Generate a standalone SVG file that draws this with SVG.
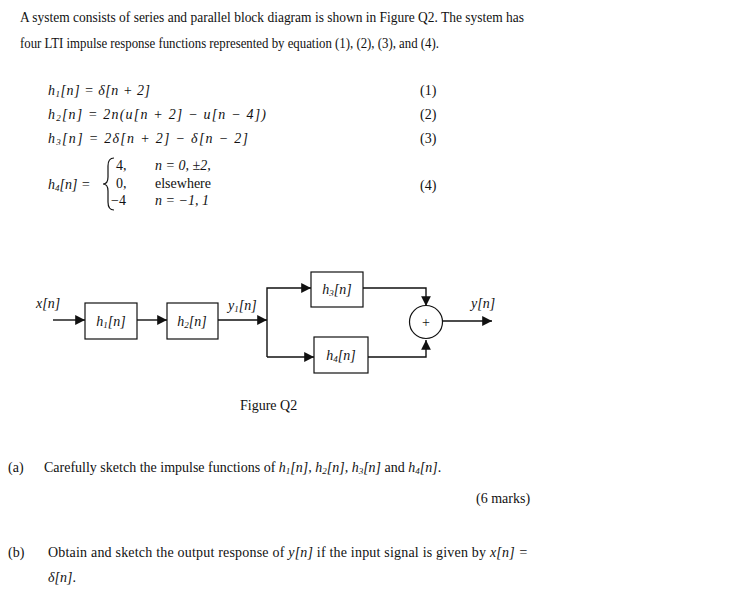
<svg xmlns="http://www.w3.org/2000/svg" width="743" height="597" viewBox="0 0 743 597">
<defs>
<style>
text{font-family:"Liberation Serif",serif;font-size:14px;fill:#111}
.m{font-style:italic;font-size:14px}
.box{fill:#fff;stroke:#111;stroke-width:1.2}
.ln{fill:none;stroke:#111;stroke-width:1.4}
</style>
<marker id="a" viewBox="0 0 10 10" refX="10" refY="5" markerWidth="7" markerHeight="7" orient="auto"><path d="M0,0L10,5L0,10z" fill="#111"/></marker>
</defs>
<rect width="743" height="597" fill="#fff"/>
<text x="20" y="22" textLength="504" lengthAdjust="spacingAndGlyphs">A system consists of series and parallel block diagram is shown in Figure Q2. The system has</text>
<text x="20" y="48" textLength="419" lengthAdjust="spacingAndGlyphs">four LTI impulse response functions represented by equation (1), (2), (3), and (4).</text>
<g id="eqs">
<text class="m" x="48" y="95" textLength="102" lengthAdjust="spacing">h<tspan font-size="9" dy="2">1</tspan><tspan dy="-2">[n] = δ[n + 2]</tspan></text>
<text class="m" x="48" y="119" textLength="218" lengthAdjust="spacing">h<tspan font-size="9" dy="2">2</tspan><tspan dy="-2">[n] = 2n(u[n + 2] − u[n − 4])</tspan></text>
<text class="m" x="48" y="143" textLength="200" lengthAdjust="spacing">h<tspan font-size="9" dy="2">3</tspan><tspan dy="-2">[n] = 2δ[n + 2] − δ[n − 2]</tspan></text>
<text class="m" x="48" y="189">h<tspan font-size="9" dy="2">4</tspan><tspan dy="-2">[n] =</tspan></text>
<path d="M114,158 Q108,158 108,166 V177 Q108,184 103,184 Q108,184 108,191 V202 Q108,210 114,210" fill="none" stroke="#111" stroke-width="1.2"/>
<text x="116" y="170">4,</text><text x="116" y="188">0,</text><text x="111" y="205">−4</text>
<text class="m" x="155" y="170">n = 0, ±2,</text>
<text x="155" y="188">elsewhere</text>
<text class="m" x="155" y="205">n = −1, 1</text>
<text x="420" y="95">(1)</text><text x="420" y="119">(2)</text><text x="420" y="143">(3)</text><text x="420" y="190">(4)</text>
</g>
<g id="connectors">
<path class="ln" d="M53,320H85" marker-end="url(#a)"/>
<path class="ln" d="M137,320H167" marker-end="url(#a)"/>
<path class="ln" d="M218,320H267" marker-end="url(#a)"/>
<path class="ln" d="M267,357V288H311" marker-end="url(#a)"/>
<path class="ln" d="M267,357H314" marker-end="url(#a)"/>
<path class="ln" d="M363,288H426V306" marker-end="url(#a)"/>
<path class="ln" d="M368,357H426V340" marker-end="url(#a)"/>
<path class="ln" d="M443,321H492" marker-end="url(#a)"/>
</g>
<g id="h1"><rect class="box" x="85" y="303" width="52" height="36"/><text class="m" x="111" y="326" text-anchor="middle">h<tspan font-size="9" dy="2">1</tspan><tspan dy="-2">[n]</tspan></text></g>
<g id="h2"><rect class="box" x="167" y="303" width="51" height="36"/><text class="m" x="192" y="326" text-anchor="middle">h<tspan font-size="9" dy="2">2</tspan><tspan dy="-2">[n]</tspan></text></g>
<g id="h3"><rect class="box" x="311" y="272" width="52" height="35"/><text class="m" x="337" y="294" text-anchor="middle">h<tspan font-size="9" dy="2">3</tspan><tspan dy="-2">[n]</tspan></text></g>
<g id="h4"><rect class="box" x="314" y="337" width="54" height="36"/><text class="m" x="341" y="360" text-anchor="middle">h<tspan font-size="9" dy="2">4</tspan><tspan dy="-2">[n]</tspan></text></g>
<g id="sum"><circle class="box" cx="426" cy="322" r="16.5"/><text x="426" y="327" text-anchor="middle">+</text></g>
<g id="labels">
<text class="m" x="36" y="308">x[n]</text>
<text class="m" x="228" y="310">y<tspan font-size="9" dy="2">1</tspan><tspan dy="-2">[n]</tspan></text>
<text class="m" x="471" y="308">y[n]</text>
</g>
<text x="240" y="410">Figure Q2</text>
<text x="8" y="472">(a)</text>
<text x="44" y="472">Carefully sketch the impulse functions of <tspan class="m">h<tspan font-size="9" dy="2">1</tspan><tspan dy="-2">[n], h</tspan><tspan font-size="9" dy="2">2</tspan><tspan dy="-2">[n], h</tspan><tspan font-size="9" dy="2">3</tspan><tspan dy="-2">[n]</tspan></tspan> and <tspan class="m">h<tspan font-size="9" dy="2">4</tspan><tspan dy="-2">[n]</tspan></tspan>.</text>
<text x="476" y="503">(6 marks)</text>
<text x="8" y="557">(b)</text>
<text x="48" y="557" textLength="480" lengthAdjust="spacing">Obtain and sketch the output response of <tspan class="m">y[n]</tspan> if the input signal is given by <tspan class="m">x[n] =</tspan></text>
<text class="m" x="48" y="582">δ[n]<tspan font-style="normal">.</tspan></text>
</svg>
